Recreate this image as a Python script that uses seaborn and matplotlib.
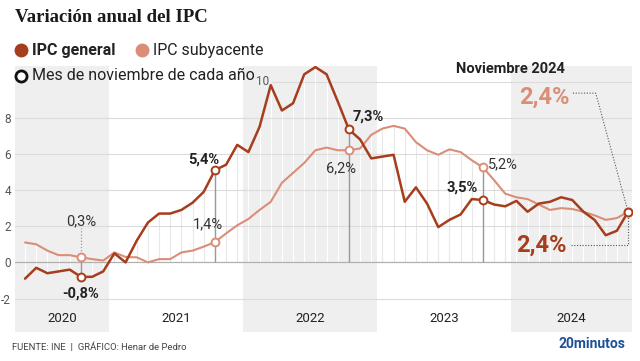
import numpy as np
import pandas as pd
import seaborn as sns
import matplotlib.pyplot as plt
from matplotlib.lines import Line2D

# meses desde mayo 2020 (0) hasta noviembre 2024 (54)
meses = list(range(55))
anios = ["2020", "2021", "2022", "2023", "2024"]
ipc_general = [-0.9, -0.3, -0.6, -0.5, -0.4, -0.8, -0.8, -0.5, 0.5, 0.0,
               1.2, 2.2, 2.7, 2.7, 2.9, 3.3, 3.9, 5.1, 5.4, 6.5,
               6.1, 7.5, 9.8, 8.4, 8.8, 10.4, 10.8, 10.4, 8.9, 7.35,
               6.8, 5.75, 5.85, 5.95, 3.35, 4.15, 3.25, 1.95, 2.35, 2.65,
               3.5, 3.45, 3.2, 3.1, 3.4, 2.8, 3.25, 3.35, 3.6, 3.45,
               2.8, 2.35, 1.5, 1.75, 2.8]
ipc_subyacente = [1.1, 1.0, 0.65, 0.4, 0.4, 0.28, 0.18, 0.1, 0.55, 0.3,
                  0.28, 0.0, 0.18, 0.18, 0.55, 0.65, 0.87, 1.12, 1.6, 2.05,
                  2.4, 2.9, 3.35, 4.4, 4.95, 5.5, 6.2, 6.35, 6.2, 6.2,
                  6.3, 7.05, 7.4, 7.55, 7.4, 6.65, 6.2, 5.95, 6.25, 6.1,
                  5.65, 5.25, 4.55, 3.8, 3.6, 3.5, 3.2, 2.9, 3.0, 2.95,
                  2.8, 2.6, 2.35, 2.45, 2.8]
noviembre = [5, 17, 29, 41, 54]
etiq_general = ["-0,8%", "5,4%", "7,3%", "3,5%", "2,4%"]
etiq_sub = ["0,3%", "1,4%", "6,2%", "5,2%", "2,4%"]

C_GEN = "#a63d1c"
C_SUB = "#db8e77"

sns.set_theme(style="white")
plt.rcParams["font.family"] = ["Roboto", "DejaVu Sans"]

df = pd.DataFrame({
    "mes": meses * 2,
    "valor": ipc_general + ipc_subyacente,
    "serie": ["IPC general"] * 55 + ["IPC subyacente"] * 55,
})

fig = plt.figure(figsize=(6.4, 3.61), dpi=100)
ax = fig.add_axes([15 / 640, 1 - 332 / 361, 617 / 640, 266 / 361])
x0, x1 = -0.9, 54.35
y0, y1 = -3.85, 10.86
ax.set_xlim(x0, x1)
ax.set_ylim(y0, y1)

# bandas de cada año
limites = [x0, 7.5, 19.5, 31.5, 43.5, x1]
for k, anio in enumerate(anios):
    a, b = limites[k], limites[k + 1]
    if k % 2 == 0:
        ax.axvspan(a, b, color="#efefef", lw=0, zorder=0)
    ax.text((a + b) / 2, -3.08, anio, ha="center", va="center",
            fontsize=9.5, color="#222222")

# rayas mensuales
for m in meses:
    arriba = max(ipc_general[m], ipc_subyacente[m])
    abajo = min(0, ipc_general[m], ipc_subyacente[m])
    col = "white" if ((m + 4) // 12) % 2 == 0 else "#e8e8e8"
    ax.vlines(m, abajo, arriba, color=col, lw=0.8, zorder=1)

# rejilla
for v in [-2, 2, 4, 6, 8]:
    ax.axhline(v, color="#dcdcdc", lw=0.8, zorder=1)
ax.hlines(10, 22.1, x1, color="#dcdcdc", lw=0.8, zorder=1)
ax.axhline(0, color="#b0b0b0", lw=0.9, zorder=1)
ax.text(21.9, 10, "10", ha="right", va="center", fontsize=8.5, color="#555555")

ax.set_yticks([-2, 0, 2, 4, 6, 8])
ax.set_yticklabels(["-2", "0", "2", "4", "6", "8"])
ax.set_xticks([])
ax.tick_params(axis="y", length=0, pad=3, labelsize=8.5, labelcolor="#555555")
for s in ax.spines.values():
    s.set_visible(False)

# lineas verticales de noviembre
gris = "#999999"
ax.vlines(noviembre[0], ipc_general[noviembre[0]], ipc_subyacente[noviembre[0]], color=gris, lw=1, zorder=2)
ax.vlines(noviembre[0], ipc_subyacente[noviembre[0]], 1.9, color=gris, lw=0.9, ls=(0, (1, 1.5)), zorder=2)
ax.vlines(noviembre[1], 0, ipc_general[noviembre[1]], color=gris, lw=1, zorder=2)
ax.vlines(noviembre[2], 0, ipc_general[noviembre[2]], color=gris, lw=1, zorder=2)
ax.vlines(noviembre[3], 0, ipc_subyacente[noviembre[3]], color=gris, lw=1, zorder=2)

# series
sns.lineplot(data=df[df["serie"] == "IPC subyacente"], x="mes", y="valor",
             color=C_SUB, lw=1.5, ax=ax, zorder=3, legend=False)
sns.lineplot(data=df[df["serie"] == "IPC general"], x="mes", y="valor",
             color=C_GEN, lw=1.8, ax=ax, zorder=4, legend=False)
ax.set_xlabel("")
ax.set_ylabel("")

ax.scatter(noviembre, [ipc_subyacente[m] for m in noviembre], s=32, facecolor="white",
           edgecolor=C_SUB, lw=1.4, zorder=5)
ax.scatter(noviembre, [ipc_general[m] for m in noviembre], s=32, facecolor="white",
           edgecolor=C_GEN, lw=1.4, zorder=6)

# etiquetas
neg = "#222222"
ax.text(5, -1.75, etiq_general[0], ha="center", va="center", fontsize=10.5, fontweight="bold", color=neg)
ax.text(5, 2.28, etiq_sub[0], ha="center", va="center", fontsize=10.5, color="#333333")
ax.text(17.4, 5.71, etiq_general[1], ha="right", va="center", fontsize=10.5, fontweight="bold", color=neg)
ax.text(17.7, 2.12, etiq_sub[1], ha="right", va="center", fontsize=10.5, color="#333333")
ax.text(29.3, 8.04, etiq_general[2], ha="left", va="center", fontsize=10.5, fontweight="bold", color=neg)
ax.text(28.3, 5.22, etiq_sub[2], ha="center", va="center", fontsize=10.5, color="#333333")
ax.text(40.5, 4.16, etiq_general[3], ha="right", va="center", fontsize=10.5, fontweight="bold", color=neg)
ax.text(41.45, 5.44, etiq_sub[3], ha="left", va="center", fontsize=10.5, color="#333333")

ax.text(43.5, 10.69, "Noviembre 2024", ha="center", va="center", fontsize=10.5, fontweight="bold", color=neg)
ax.text(48.8, 9.14, etiq_sub[4], ha="right", va="center", fontsize=17, fontweight="bold", color=C_SUB)
ax.text(48.5, 0.96, etiq_general[4], ha="right", va="center", fontsize=17, fontweight="bold", color=C_GEN)
ult = meses[-1]
ax.plot([49.06, 51.1, ult], [9.36, 9.36, ipc_subyacente[-1]], color="#555555", lw=0.8,
        ls=(0, (1, 1.5)), zorder=2)
ax.plot([48.9, ult, ult], [0.96, 0.96, ipc_general[-1]], color="#555555", lw=0.8,
        ls=(0, (1, 1.5)), zorder=2)

# titulo y leyenda
fig.text(15 / 640, 1 - 18 / 361, "Variación anual del IPC", ha="left", va="center",
         fontsize=13.5, fontweight="bold", family="Liberation Serif", color="#1a1a1a")
fy1 = 1 - 50 / 361
fy2 = 1 - 76 / 361
fig.add_artist(Line2D([20.7 / 640], [fy1], marker="o", ms=9, color=C_GEN, transform=fig.transFigure))
fig.text(32 / 640, fy1, "IPC general", ha="left", va="center", fontsize=11.5, fontweight="bold", color=neg)
fig.add_artist(Line2D([142 / 640], [fy1], marker="o", ms=9, color=C_SUB, transform=fig.transFigure))
fig.text(153 / 640, fy1, "IPC subyacente", ha="left", va="center", fontsize=11.5, color=neg)
fig.add_artist(Line2D([20.7 / 640], [fy2], marker="o", ms=8, mfc="white", mec="#111111", mew=2,
                      transform=fig.transFigure))
fig.text(32 / 640, fy2, "Mes de noviembre de cada año", ha="left", va="center", fontsize=11.5, color=neg)

fig.text(12 / 640, 1 - 347 / 361, "FUENTE: INE  |  GRÁFICO: Henar de Pedro", ha="left", va="center",
         fontsize=6.8, color="#444444")
fig.text(625 / 640, 1 - 344 / 361, "20minutos", ha="right", va="center", fontsize=10,
         fontweight="bold", color="#1d4f9a")

fig.savefig("out.png", dpi=100)
